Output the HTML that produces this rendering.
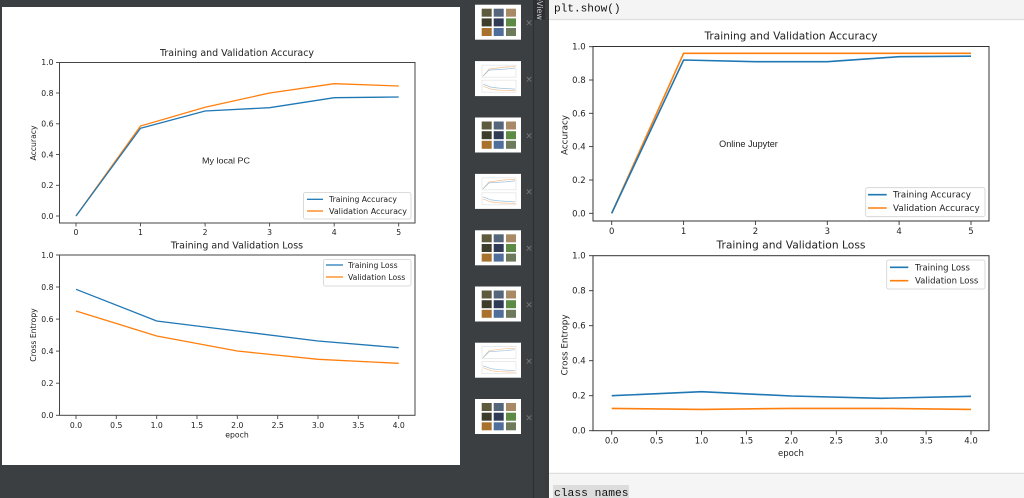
<!DOCTYPE html>
<html><head><meta charset="utf-8"><style>
html,body{margin:0;padding:0;background:#3c3f41;}
svg{display:block;}
text{font-family:"DejaVu Sans","Liberation Sans",sans-serif;fill:#222;}
.mono{font-family:"Liberation Mono","DejaVu Sans Mono",monospace;fill:#111;}
.lt{font-size:7.7px;}
.rt{font-size:8.5px;}
</style></head><body>
<svg width="1024" height="498" viewBox="0 0 1024 498" xmlns="http://www.w3.org/2000/svg">
<rect x="0" y="0" width="1024" height="498" fill="#3c3f41"/>
<!-- left white panel -->
<rect x="2" y="7" width="458" height="458" fill="#ffffff"/>

<!-- ============ LEFT CHART 1 ============ -->
<text x="237" y="56" text-anchor="middle" font-size="9.3" textLength="154" lengthAdjust="spacingAndGlyphs">Training and Validation Accuracy</text>
<rect x="59.5" y="62.5" width="355.5" height="160.5" fill="none" stroke="#444" stroke-width="1"/>
<g stroke="#444" stroke-width="0.9">
<line x1="56" y1="216" x2="59.5" y2="216"/><line x1="56" y1="185.3" x2="59.5" y2="185.3"/><line x1="56" y1="154.5" x2="59.5" y2="154.5"/><line x1="56" y1="123.8" x2="59.5" y2="123.8"/><line x1="56" y1="93" x2="59.5" y2="93"/><line x1="56" y1="62.5" x2="59.5" y2="62.5"/>
<line x1="76" y1="223" x2="76" y2="226.5"/><line x1="140.5" y1="223" x2="140.5" y2="226.5"/><line x1="205.1" y1="223" x2="205.1" y2="226.5"/><line x1="269.6" y1="223" x2="269.6" y2="226.5"/><line x1="334.2" y1="223" x2="334.2" y2="226.5"/><line x1="398.7" y1="223" x2="398.7" y2="226.5"/>
</g>
<g class="lt" text-anchor="end">
<text x="53.5" y="218.8">0.0</text><text x="53.5" y="188.1">0.2</text><text x="53.5" y="157.3">0.4</text><text x="53.5" y="126.6">0.6</text><text x="53.5" y="95.8">0.8</text><text x="53.5" y="65.2">1.0</text>
</g>
<g class="lt" text-anchor="middle">
<text x="76" y="235">0</text><text x="140.5" y="235">1</text><text x="205.1" y="235">2</text><text x="269.6" y="235">3</text><text x="334.2" y="235">4</text><text x="398.7" y="235">5</text>
</g>
<text class="lt" transform="translate(33.5,143) rotate(-90)" text-anchor="middle" dy="0.35em">Accuracy</text>
<polyline points="76,216 140.5,126 205.1,107.3 269.6,93 334.2,83.7 398.7,86" fill="none" stroke="#ff7f0e" stroke-width="1.3"/>
<polyline points="76,216 140.5,128.3 205.1,111 269.6,107.7 334.2,97.7 398.7,97" fill="none" stroke="#1f77b4" stroke-width="1.3"/>
<text x="226" y="163.5" text-anchor="middle" font-size="8.6" style="font-family:'Liberation Sans',sans-serif" textLength="48" lengthAdjust="spacingAndGlyphs">My local PC</text>
<rect x="303.5" y="192.5" width="107.5" height="26.5" rx="2" fill="#fff" fill-opacity="0.85" stroke="#d0d0d0" stroke-width="0.8"/>
<line x1="307" y1="199.3" x2="323" y2="199.3" stroke="#1f77b4" stroke-width="1.3"/>
<line x1="307" y1="211" x2="323" y2="211" stroke="#ff7f0e" stroke-width="1.3"/>
<text class="lt" x="329" y="202">Training Accuracy</text>
<text class="lt" x="329" y="213.8" textLength="78" lengthAdjust="spacingAndGlyphs">Validation Accuracy</text>

<!-- ============ LEFT CHART 2 ============ -->
<text x="237" y="248.5" text-anchor="middle" font-size="9.3" textLength="132.3" lengthAdjust="spacingAndGlyphs">Training and Validation Loss</text>
<rect x="59.5" y="255" width="355.5" height="160.3" fill="none" stroke="#444" stroke-width="1"/>
<g stroke="#444" stroke-width="0.9">
<line x1="56" y1="415.3" x2="59.5" y2="415.3"/><line x1="56" y1="383.2" x2="59.5" y2="383.2"/><line x1="56" y1="351.1" x2="59.5" y2="351.1"/><line x1="56" y1="319.1" x2="59.5" y2="319.1"/><line x1="56" y1="287" x2="59.5" y2="287"/><line x1="56" y1="255" x2="59.5" y2="255"/>
<line x1="76" y1="415.3" x2="76" y2="419"/><line x1="116.3" y1="415.3" x2="116.3" y2="419"/><line x1="156.7" y1="415.3" x2="156.7" y2="419"/><line x1="197" y1="415.3" x2="197" y2="419"/><line x1="237.3" y1="415.3" x2="237.3" y2="419"/><line x1="277.7" y1="415.3" x2="277.7" y2="419"/><line x1="318" y1="415.3" x2="318" y2="419"/><line x1="358.3" y1="415.3" x2="358.3" y2="419"/><line x1="398.7" y1="415.3" x2="398.7" y2="419"/>
</g>
<g class="lt" text-anchor="end">
<text x="53.5" y="418.1">0.0</text><text x="53.5" y="386">0.2</text><text x="53.5" y="353.9">0.4</text><text x="53.5" y="321.9">0.6</text><text x="53.5" y="289.8">0.8</text><text x="53.5" y="257.8">1.0</text>
</g>
<g class="lt" text-anchor="middle">
<text x="76" y="428">0.0</text><text x="116.3" y="428">0.5</text><text x="156.7" y="428">1.0</text><text x="197" y="428">1.5</text><text x="237.3" y="428">2.0</text><text x="277.7" y="428">2.5</text><text x="318" y="428">3.0</text><text x="358.3" y="428">3.5</text><text x="398.7" y="428">4.0</text>
</g>
<text class="lt" x="237" y="437.5" text-anchor="middle">epoch</text>
<text class="lt" transform="translate(33.5,335) rotate(-90)" text-anchor="middle" dy="0.35em">Cross Entropy</text>
<polyline points="76,289.3 156.7,321 237.3,331 318,341 398.7,347.7" fill="none" stroke="#1f77b4" stroke-width="1.3"/>
<polyline points="76,311 156.7,336 237.3,351 318,359.3 398.7,363.3" fill="none" stroke="#ff7f0e" stroke-width="1.3"/>
<rect x="323.5" y="259.5" width="87.5" height="26.5" rx="2" fill="#fff" fill-opacity="0.85" stroke="#d0d0d0" stroke-width="0.8"/>
<line x1="326" y1="265" x2="343" y2="265" stroke="#1f77b4" stroke-width="1.3"/>
<line x1="326" y1="277" x2="343" y2="277" stroke="#ff7f0e" stroke-width="1.3"/>
<text class="lt" x="348" y="267.8">Training Loss</text>
<text class="lt" x="348" y="279.8">Validation Loss</text>

<!-- ============ MIDDLE STRIP ============ -->
<line x1="533.5" y1="0" x2="533.5" y2="498" stroke="#2b2d2f" stroke-width="1"/>
<rect x="534" y="0" width="14" height="20" fill="#2e3033"/>
<text transform="translate(537,0) rotate(90)" font-size="8" style="fill:#c8c8c8" x="-4" y="0" dy="0">eView</text>

<!-- thumbnails -->
<g id="thumbs">
<g transform="translate(475,4.7)">
<rect width="46" height="35" fill="#fff"/>
<rect x="6.7" y="4" width="10" height="8" fill="#5d5a3e"/><rect x="18.7" y="4" width="10" height="8" fill="#55657a"/><rect x="31" y="4" width="10" height="8" fill="#a88a66"/>
<rect x="6.7" y="13.7" width="10" height="8" fill="#3e3d2c"/><rect x="18.7" y="13.7" width="10" height="8" fill="#2f3a55"/><rect x="31" y="13.7" width="10" height="8" fill="#5d8a45"/>
<rect x="6.7" y="23.3" width="10" height="8" fill="#a8722e"/><rect x="18.7" y="23.3" width="10" height="8" fill="#4f6f9a"/><rect x="31" y="23.3" width="10" height="8" fill="#6d7a5c"/>
</g>
<g transform="translate(475,117.5)">
<rect width="46" height="35" fill="#fff"/>
<rect x="6.7" y="4" width="10" height="8" fill="#5d5a3e"/><rect x="18.7" y="4" width="10" height="8" fill="#55657a"/><rect x="31" y="4" width="10" height="8" fill="#a88a66"/>
<rect x="6.7" y="13.7" width="10" height="8" fill="#3e3d2c"/><rect x="18.7" y="13.7" width="10" height="8" fill="#2f3a55"/><rect x="31" y="13.7" width="10" height="8" fill="#5d8a45"/>
<rect x="6.7" y="23.3" width="10" height="8" fill="#a8722e"/><rect x="18.7" y="23.3" width="10" height="8" fill="#4f6f9a"/><rect x="31" y="23.3" width="10" height="8" fill="#6d7a5c"/>
</g>
<g transform="translate(475,230.3)">
<rect width="46" height="35" fill="#fff"/>
<rect x="6.7" y="4" width="10" height="8" fill="#5d5a3e"/><rect x="18.7" y="4" width="10" height="8" fill="#55657a"/><rect x="31" y="4" width="10" height="8" fill="#a88a66"/>
<rect x="6.7" y="13.7" width="10" height="8" fill="#3e3d2c"/><rect x="18.7" y="13.7" width="10" height="8" fill="#2f3a55"/><rect x="31" y="13.7" width="10" height="8" fill="#5d8a45"/>
<rect x="6.7" y="23.3" width="10" height="8" fill="#a8722e"/><rect x="18.7" y="23.3" width="10" height="8" fill="#4f6f9a"/><rect x="31" y="23.3" width="10" height="8" fill="#6d7a5c"/>
</g>
<g transform="translate(475,286.5)">
<rect width="46" height="35" fill="#fff"/>
<rect x="6.7" y="4" width="10" height="8" fill="#5d5a3e"/><rect x="18.7" y="4" width="10" height="8" fill="#55657a"/><rect x="31" y="4" width="10" height="8" fill="#a88a66"/>
<rect x="6.7" y="13.7" width="10" height="8" fill="#3e3d2c"/><rect x="18.7" y="13.7" width="10" height="8" fill="#2f3a55"/><rect x="31" y="13.7" width="10" height="8" fill="#5d8a45"/>
<rect x="6.7" y="23.3" width="10" height="8" fill="#a8722e"/><rect x="18.7" y="23.3" width="10" height="8" fill="#4f6f9a"/><rect x="31" y="23.3" width="10" height="8" fill="#6d7a5c"/>
</g>
<g transform="translate(475,399)">
<rect width="46" height="35" fill="#fff"/>
<rect x="6.7" y="4" width="10" height="8" fill="#5d5a3e"/><rect x="18.7" y="4" width="10" height="8" fill="#55657a"/><rect x="31" y="4" width="10" height="8" fill="#a88a66"/>
<rect x="6.7" y="13.7" width="10" height="8" fill="#3e3d2c"/><rect x="18.7" y="13.7" width="10" height="8" fill="#2f3a55"/><rect x="31" y="13.7" width="10" height="8" fill="#5d8a45"/>
<rect x="6.7" y="23.3" width="10" height="8" fill="#a8722e"/><rect x="18.7" y="23.3" width="10" height="8" fill="#4f6f9a"/><rect x="31" y="23.3" width="10" height="8" fill="#6d7a5c"/>
</g>
<g transform="translate(475,61.1)">
<rect width="46" height="35" fill="#fff"/>
<rect x="7" y="4" width="34" height="12" fill="none" stroke="#ccc" stroke-width="0.4"/>
<polyline points="8,15 14,8 22,7 30,6 40,5.5" fill="none" stroke="#f7c08c" stroke-width="0.7"/>
<polyline points="8,15 14,9 22,8.5 30,8 40,7" fill="none" stroke="#9cc1de" stroke-width="0.7"/>
<rect x="7" y="19" width="34" height="12" fill="none" stroke="#ccc" stroke-width="0.4"/>
<polyline points="8,23 16,26 24,27 40,28" fill="none" stroke="#9cc1de" stroke-width="0.7"/>
<polyline points="8,25 16,28 24,29 40,29.5" fill="none" stroke="#f7c08c" stroke-width="0.7"/>
</g>
<g transform="translate(475,173.9)">
<rect width="46" height="35" fill="#fff"/>
<rect x="7" y="4" width="34" height="12" fill="none" stroke="#ccc" stroke-width="0.4"/>
<polyline points="8,15 14,8 22,7 30,6 40,5.5" fill="none" stroke="#f7c08c" stroke-width="0.7"/>
<polyline points="8,15 14,9 22,8.5 30,8 40,7" fill="none" stroke="#9cc1de" stroke-width="0.7"/>
<rect x="7" y="19" width="34" height="12" fill="none" stroke="#ccc" stroke-width="0.4"/>
<polyline points="8,23 16,26 24,27 40,28" fill="none" stroke="#9cc1de" stroke-width="0.7"/>
<polyline points="8,25 16,28 24,29 40,29.5" fill="none" stroke="#f7c08c" stroke-width="0.7"/>
</g>
<g transform="translate(475,342.7)">
<rect width="46" height="35" fill="#fff"/>
<rect x="7" y="4" width="34" height="12" fill="none" stroke="#ccc" stroke-width="0.4"/>
<polyline points="8,15 14,8 22,7 30,6 40,5.5" fill="none" stroke="#f7c08c" stroke-width="0.7"/>
<polyline points="8,15 14,9 22,8.5 30,8 40,7" fill="none" stroke="#9cc1de" stroke-width="0.7"/>
<rect x="7" y="19" width="34" height="12" fill="none" stroke="#ccc" stroke-width="0.4"/>
<polyline points="8,23 16,26 24,27 40,28" fill="none" stroke="#9cc1de" stroke-width="0.7"/>
<polyline points="8,25 16,28 24,29 40,29.5" fill="none" stroke="#f7c08c" stroke-width="0.7"/>
</g>
</g>
<g font-size="9" text-anchor="middle">
<text x="529" y="25.5" style="fill:#7a7a7a">×</text>
<text x="529" y="81.9" style="fill:#7a7a7a">×</text>
<text x="529" y="138.3" style="fill:#7a7a7a">×</text>
<text x="529" y="194.7" style="fill:#7a7a7a">×</text>
<text x="529" y="251.1" style="fill:#7a7a7a">×</text>
<text x="529" y="307.5" style="fill:#7a7a7a">×</text>
<text x="529" y="363.9" style="fill:#7a7a7a">×</text>
<text x="529" y="420.3" style="fill:#7a7a7a">×</text>
</g>

<!-- ============ RIGHT NOTEBOOK ============ -->
<rect x="549" y="0" width="475" height="498" fill="#ffffff"/>
<rect x="549" y="0" width="475" height="19" fill="#f4f4f4"/>
<line x1="549" y1="19.5" x2="1024" y2="19.5" stroke="#dedede" stroke-width="1.2"/>
<text class="mono" x="554" y="11.5" font-size="11.1">plt.show()</text>

<!-- right chart 1 -->
<text x="791" y="39.5" text-anchor="middle" font-size="10.5" textLength="173" lengthAdjust="spacingAndGlyphs">Training and Validation Accuracy</text>
<rect x="593" y="46.5" width="396" height="174.5" fill="none" stroke="#333" stroke-width="1"/>
<g stroke="#333" stroke-width="0.9">
<line x1="589" y1="213.3" x2="593" y2="213.3"/><line x1="589" y1="180" x2="593" y2="180"/><line x1="589" y1="146.6" x2="593" y2="146.6"/><line x1="589" y1="113.3" x2="593" y2="113.3"/><line x1="589" y1="80" x2="593" y2="80"/><line x1="589" y1="46.7" x2="593" y2="46.7"/>
<line x1="611.7" y1="221" x2="611.7" y2="225"/><line x1="683.6" y1="221" x2="683.6" y2="225"/><line x1="755.4" y1="221" x2="755.4" y2="225"/><line x1="827.3" y1="221" x2="827.3" y2="225"/><line x1="899.1" y1="221" x2="899.1" y2="225"/><line x1="971" y1="221" x2="971" y2="225"/>
</g>
<g class="rt" text-anchor="end">
<text x="585.7" y="216.3">0.0</text><text x="585.7" y="183">0.2</text><text x="585.7" y="149.6">0.4</text><text x="585.7" y="116.3">0.6</text><text x="585.7" y="83">0.8</text><text x="585.7" y="49.7">1.0</text>
</g>
<g class="rt" text-anchor="middle">
<text x="611.7" y="234">0</text><text x="683.6" y="234">1</text><text x="755.4" y="234">2</text><text x="827.3" y="234">3</text><text x="899.1" y="234">4</text><text x="971" y="234">5</text>
</g>
<text class="rt" transform="translate(564.5,135) rotate(-90)" text-anchor="middle" dy="0.35em" textLength="40" lengthAdjust="spacingAndGlyphs">Accuracy</text>
<polyline points="611.7,213.3 683.6,53.3 755.4,53.3 827.3,53.3 899.1,53.3 971,53.3" fill="none" stroke="#ff7f0e" stroke-width="1.6"/>
<polyline points="611.7,213.3 683.6,60 755.4,61.7 827.3,61.7 899.1,56.7 971,56.2" fill="none" stroke="#1f77b4" stroke-width="1.6"/>
<text x="748.5" y="147.2" text-anchor="middle" font-size="9" style="font-family:'Liberation Sans',sans-serif" textLength="58.7" lengthAdjust="spacingAndGlyphs">Online Jupyter</text>
<rect x="865.7" y="187.7" width="119.3" height="29" rx="2" fill="#fff" fill-opacity="0.85" stroke="#d0d0d0" stroke-width="0.8"/>
<line x1="868" y1="194.7" x2="886.7" y2="194.7" stroke="#1f77b4" stroke-width="1.6"/>
<line x1="868" y1="208" x2="886.7" y2="208" stroke="#ff7f0e" stroke-width="1.6"/>
<text class="rt" x="893" y="197.7" textLength="78" lengthAdjust="spacingAndGlyphs">Training Accuracy</text>
<text class="rt" x="893" y="211" textLength="86.7" lengthAdjust="spacingAndGlyphs">Validation Accuracy</text>

<!-- right chart 2 -->
<text x="791" y="248.7" text-anchor="middle" font-size="10.5" textLength="149" lengthAdjust="spacingAndGlyphs">Training and Validation Loss</text>
<rect x="593" y="255.7" width="396" height="175" fill="none" stroke="#333" stroke-width="1"/>
<g stroke="#333" stroke-width="0.9">
<line x1="589" y1="430.7" x2="593" y2="430.7"/><line x1="589" y1="395.7" x2="593" y2="395.7"/><line x1="589" y1="360.7" x2="593" y2="360.7"/><line x1="589" y1="325.7" x2="593" y2="325.7"/><line x1="589" y1="290.7" x2="593" y2="290.7"/><line x1="589" y1="255.7" x2="593" y2="255.7"/>
<line x1="611.7" y1="430.7" x2="611.7" y2="434.7"/><line x1="656.6" y1="430.7" x2="656.6" y2="434.7"/><line x1="701.5" y1="430.7" x2="701.5" y2="434.7"/><line x1="746.4" y1="430.7" x2="746.4" y2="434.7"/><line x1="791.3" y1="430.7" x2="791.3" y2="434.7"/><line x1="836.3" y1="430.7" x2="836.3" y2="434.7"/><line x1="881.2" y1="430.7" x2="881.2" y2="434.7"/><line x1="926.1" y1="430.7" x2="926.1" y2="434.7"/><line x1="971" y1="430.7" x2="971" y2="434.7"/>
</g>
<g class="rt" text-anchor="end">
<text x="585.7" y="433.7">0.0</text><text x="585.7" y="398.7">0.2</text><text x="585.7" y="363.7">0.4</text><text x="585.7" y="328.7">0.6</text><text x="585.7" y="293.7">0.8</text><text x="585.7" y="258.7">1.0</text>
</g>
<g class="rt" text-anchor="middle">
<text x="611.7" y="443.3">0.0</text><text x="656.6" y="443.3">0.5</text><text x="701.5" y="443.3">1.0</text><text x="746.4" y="443.3">1.5</text><text x="791.3" y="443.3">2.0</text><text x="836.3" y="443.3">2.5</text><text x="881.2" y="443.3">3.0</text><text x="926.1" y="443.3">3.5</text><text x="971" y="443.3">4.0</text>
</g>
<text class="rt" x="791" y="456" text-anchor="middle">epoch</text>
<text class="rt" transform="translate(564.5,345) rotate(-90)" text-anchor="middle" dy="0.35em" textLength="61" lengthAdjust="spacingAndGlyphs">Cross Entropy</text>
<polyline points="611.7,395.7 701.5,391.7 791.3,396 881.2,398.3 971,396.3" fill="none" stroke="#1f77b4" stroke-width="1.6"/>
<polyline points="611.7,408.4 701.5,409.4 791.3,408.4 881.2,408.4 971,409.4" fill="none" stroke="#ff7f0e" stroke-width="1.6"/>
<rect x="886.7" y="260" width="98.3" height="29" rx="2" fill="#fff" fill-opacity="0.85" stroke="#d0d0d0" stroke-width="0.8"/>
<line x1="890" y1="267.3" x2="908.3" y2="267.3" stroke="#1f77b4" stroke-width="1.6"/>
<line x1="890" y1="280.7" x2="908.3" y2="280.7" stroke="#ff7f0e" stroke-width="1.6"/>
<text class="rt" x="915" y="270.3">Training Loss</text>
<text class="rt" x="915" y="283.7">Validation Loss</text>

<!-- bottom cell -->
<line x1="549" y1="473.5" x2="1024" y2="473.5" stroke="#dedede" stroke-width="1.5"/>
<rect x="549" y="475" width="475" height="23" fill="#f5f5f5"/>
<rect x="553" y="485" width="76" height="13" fill="#dcdcdc"/>
<text class="mono" x="554" y="496" font-size="11.3">class names</text>
<rect x="545" y="0" width="4" height="498" fill="#3a3c3e"/>
</svg>
</body></html>
